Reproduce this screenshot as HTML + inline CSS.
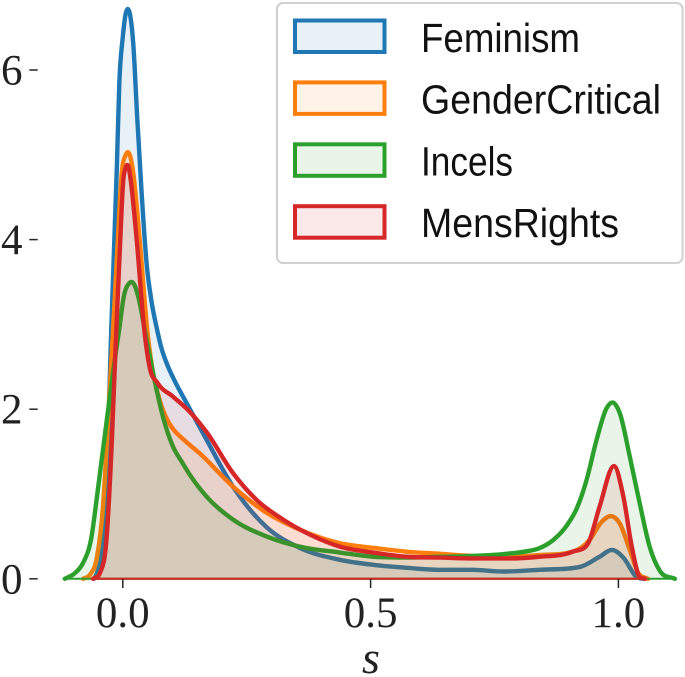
<!DOCTYPE html>
<html lang="en">
<head>
<meta charset="utf-8">
<title>Density of s by community</title>
<style>
html,body{margin:0;padding:0;background:#fff;width:685px;height:677px;overflow:hidden}
svg{display:block}
.serif{font-family:"Liberation Serif",serif;fill:#222}
.sans{font-family:"Liberation Sans",sans-serif;fill:#111}
</style>
</head>
<body>
<svg id="chart" width="685" height="677" viewBox="0 0 685 677" xmlns="http://www.w3.org/2000/svg"></svg>
<script>
const seriesNames = ["Feminism", "GenderCritical", "Incels", "MensRights"];
const seriesColors = ["#1f77b4", "#ff7f0e", "#2ca02c", "#d62728"];
const xTickValues = [0, 0.5, 1];
const xTickLabels = ["0.0", "0.5", "1.0"];
const yTickValues = [0, 2, 4, 6];
const yTickLabels = ["0", "2", "4", "6"];

const feminismS = [-0.058,-0.052,-0.04,-0.03,-0.024,-0.012,-0.007,0,0.006,0.01,0.014,0.021,0.029,0.038,0.048,0.058,0.068,0.078,0.088,0.105,0.129,0.169,0.222,0.29,0.357,0.438,0.505,0.573,0.64,0.706,0.767,0.84,0.922,0.962,0.987,1.01,1.037,1.05];
const feminismD = [0,0.07,0.46,1.64,2.82,4.86,5.85,6.39,6.67,6.72,6.67,6.32,5.45,4.55,3.72,3.27,2.97,2.72,2.55,2.33,2.07,1.64,1.09,0.61,0.365,0.224,0.165,0.13,0.106,0.106,0.086,0.106,0.14,0.26,0.34,0.25,0.02,0];
const genderS = [-0.08,-0.066,-0.052,-0.04,-0.03,-0.02,-0.011,-0.002,0.006,0.01,0.014,0.021,0.034,0.05,0.061,0.07,0.081,0.091,0.101,0.125,0.155,0.222,0.29,0.357,0.438,0.505,0.573,0.64,0.706,0.774,0.84,0.908,0.942,0.966,0.984,1.002,1.023,1.039,1.06];
const genderD = [0,0.05,0.26,0.85,1.84,2.9,3.88,4.79,5,5.03,5,4.79,4,2.9,2.43,2.2,1.99,1.86,1.77,1.63,1.48,1.09,0.78,0.58,0.42,0.365,0.32,0.295,0.27,0.26,0.28,0.32,0.46,0.67,0.74,0.66,0.34,0.08,0];
const incelsS = [-0.117,-0.096,-0.08,-0.063,-0.053,-0.046,-0.033,-0.02,-0.007,0.002,0.012,0.018,0.024,0.031,0.048,0.061,0.081,0.092,0.102,0.119,0.136,0.169,0.222,0.29,0.357,0.438,0.505,0.573,0.64,0.706,0.774,0.81,0.84,0.869,0.896,0.916,0.936,0.956,0.976,0.988,1.003,1.023,1.043,1.063,1.083,1.114];
const incelsD = [0,0.07,0.19,0.5,0.93,1.25,1.84,2.42,2.95,3.33,3.48,3.5,3.46,3.33,2.82,2.43,1.91,1.7,1.55,1.38,1.22,0.97,0.7,0.5,0.38,0.31,0.26,0.25,0.26,0.27,0.295,0.32,0.36,0.46,0.63,0.83,1.17,1.64,2.01,2.08,1.95,1.44,0.89,0.38,0.1,0];
const mensS = [-0.06,-0.046,-0.033,-0.022,-0.014,-0.006,0.001,0.006,0.009,0.012,0.016,0.028,0.044,0.054,0.07,0.101,0.135,0.169,0.222,0.27,0.323,0.378,0.438,0.505,0.573,0.64,0.706,0.774,0.84,0.908,0.939,0.962,0.991,1.01,1.027,1.043,1.054];
const mensD = [0,0.07,0.46,1.64,2.82,3.88,4.7,4.85,4.88,4.85,4.7,4,2.9,2.5,2.31,2.15,1.97,1.73,1.25,0.93,0.7,0.52,0.38,0.31,0.26,0.25,0.24,0.24,0.26,0.32,0.42,0.85,1.33,0.97,0.38,0.02,0];

const seriesS = [feminismS, genderS, incelsS, mensS];
const seriesD = [feminismD, genderD, incelsD, mensD];

const NS = "http://www.w3.org/2000/svg";
const svg = document.getElementById("chart");
function xScale(v){ return 122.8 + v * 495.6; }
function yScale(v){ return 578.8 - v * 84.8; }
function mk(tag, attrs, parent){
  const el = document.createElementNS(NS, tag);
  for (const k in attrs) el.setAttribute(k, attrs[k]);
  (parent || svg).appendChild(el);
  return el;
}
function curvePath(xs, ys){
  const n = xs.length, m = new Array(n), d = [];
  for (let i = 0; i < n - 1; i++) d.push((ys[i+1] - ys[i]) / (xs[i+1] - xs[i]));
  m[0] = d[0]; m[n-1] = d[n-2];
  for (let i = 1; i < n - 1; i++) {
    if (d[i-1] * d[i] <= 0) { m[i] = 0; continue; }
    const h0 = xs[i] - xs[i-1], h1 = xs[i+1] - xs[i];
    const avg = (d[i-1] * h1 + d[i] * h0) / (h0 + h1);
    const lim = 3 * Math.min(Math.abs(d[i-1]), Math.abs(d[i]));
    m[i] = Math.sign(avg) * Math.min(Math.abs(avg), lim);
  }
  let p = "M" + xs[0].toFixed(2) + " " + ys[0].toFixed(2);
  for (let i = 0; i < n - 1; i++) {
    const h = (xs[i+1] - xs[i]) / 3;
    p += "C" + (xs[i] + h).toFixed(2) + " " + (ys[i] + m[i]*h).toFixed(2) + " " +
         (xs[i+1] - h).toFixed(2) + " " + (ys[i+1] - m[i+1]*h).toFixed(2) + " " +
         xs[i+1].toFixed(2) + " " + ys[i+1].toFixed(2);
  }
  return p;
}

seriesNames.forEach(function(name, i){
  const xs = seriesS[i].map(xScale);
  const ys = seriesD[i].map(yScale);
  const curve = curvePath(xs, ys);
  const g = mk("g", {});
  
  
  const base = mk("line", {x1: xs[0], x2: xs[xs.length-1], y1: yScale(0), y2: yScale(0), stroke: seriesColors[i], "stroke-width": 2}, g);
  
  
  const line = mk("path", {d: curve, fill: "none", stroke: seriesColors[i], "stroke-width": 4.4, "stroke-linejoin": "round", "stroke-linecap": "round"}, g);
  
  
  const area = mk("path", {d: curve + "Z", fill: seriesColors[i], "fill-opacity": 0.1, stroke: "none"}, g);
  
  
});

yTickValues.forEach(function(v, i){
  const tick = mk("line", {x1: 29.3, x2: 37.7, y1: yScale(v), y2: yScale(v), stroke: "#262626", "stroke-width": 1.5});
  
  
  const label = mk("text", {x: 1, y: yScale(v) + 14.5, "class": "serif", "font-size": 43});
  
  
  label.textContent = yTickLabels[i];
});
xTickValues.forEach(function(v, i){
  const tick = mk("line", {x1: xScale(v), x2: xScale(v), y1: 579, y2: 588, stroke: "#262626", "stroke-width": 1.5});
  
  
  const label = mk("text", {x: xScale(v), y: 627, "text-anchor": "middle", "class": "serif", "font-size": 43});
  
  
  label.textContent = xTickLabels[i];
});
const xTitle = mk("text", {x: 371, y: 673, "text-anchor": "middle", "class": "serif", "font-size": 46, "font-style": "italic"});


xTitle.textContent = "s";

const legend = mk("g", {});


const frame = mk("rect", {x: 277, y: 3, width: 405.5, height: 260, rx: 6, ry: 6, fill: "#fff", "fill-opacity": 0.8, stroke: "#d0d0d0", "stroke-width": 2}, legend);


const legendTextWidths = [159, 240, 92, 198];
seriesNames.forEach(function(name, i){
  const top = 20.5 + i * 61.9;
  const swatch = mk("rect", {x: 295, y: top, width: 89.5, height: 31.5, fill: seriesColors[i], "fill-opacity": 0.1, stroke: seriesColors[i], "stroke-width": 4}, legend);
  
  
  const text = mk("text", {x: 421, y: 52 + i * 61.7, "class": "sans", "font-size": 41, textLength: legendTextWidths[i], lengthAdjust: "spacingAndGlyphs"}, legend);
  
  
  text.textContent = name;
});
</script>
</body>
</html>
